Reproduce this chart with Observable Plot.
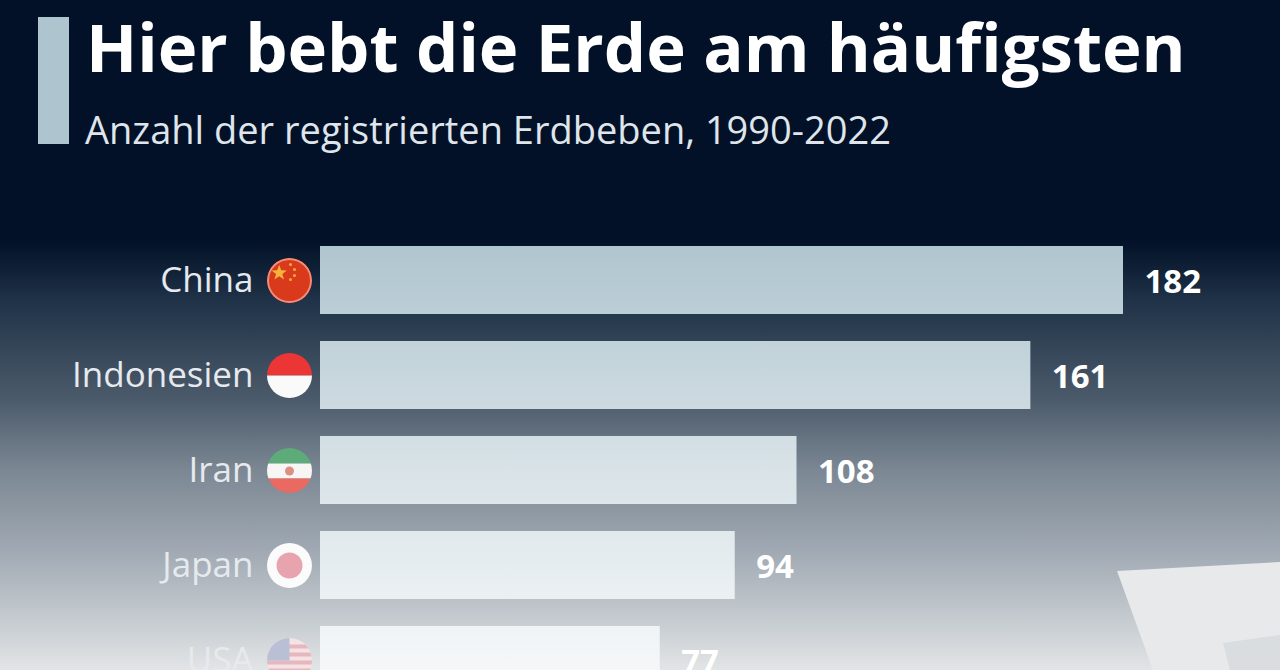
<!DOCTYPE html>
<html lang="de">
<head>
<meta charset="utf-8">
<script src="https://cdn.jsdelivr.net/npm/d3@7"></script>
<script src="https://cdn.jsdelivr.net/npm/@observablehq/plot@0.6"></script>
<style>
html,body{margin:0;padding:0;width:1280px;height:670px;overflow:hidden}
#page{position:relative;width:1280px;height:670px;overflow:hidden;font-family:"Open Sans",sans-serif;
background:linear-gradient(180deg,#021127 0,#021127 240px,#1f3247 300px,#4c5b6b 400px,#7b8793 470px,#a0a9b3 550px,#c0c6cb 610px,#e2e5e7 670px)}
#accent{position:absolute;left:38px;top:17px;width:31px;height:127px;background:#aec4cf}
#title{position:absolute;left:86px;top:0;font-size:67px;line-height:92px;font-weight:700;color:#fff;white-space:nowrap}
#subtitle{position:absolute;left:85px;top:103px;font-size:38px;line-height:52px;font-weight:400;color:#dfe5ea;white-space:nowrap}
.shard{position:absolute;left:1100px;top:550px;width:180px;height:120px}
#s1{background:#e7e9eb;clip-path:polygon(17px 21px,180px 12px,180px 120px,53px 120px)}
#s2{background:#d9dddf;clip-path:polygon(123px 93px,180px 85px,180px 120px,130px 120px)}
#chart{position:absolute;left:0;top:0}
#chart svg{display:block;background:transparent}
</style>
</head>
<body>
<div id="page">
  <div class="shard" id="s1"></div>
  <div class="shard" id="s2"></div>
  <div id="accent"></div>
  <div id="title">Hier bebt die Erde am häufigsten</div>
  <div id="subtitle">Anzahl der registrierten Erdbeben, 1990-2022</div>
  <div id="chart"></div>
</div>
<script>
const countries = ["China", "Indonesien", "Iran", "Japan", "USA"];
const quakes = [182, 161, 108, 94, 77];

const flagSvg = inner => "data:image/svg+xml;utf8," + encodeURIComponent(
  `<svg xmlns="http://www.w3.org/2000/svg" viewBox="0 0 46 46"><clipPath id="c"><circle cx="23" cy="23" r="22.5"/></clipPath><g clip-path="url(#c)">${inner}</g></svg>`);
const star = (x, y, r, f) => `<circle cx="${x}" cy="${y}" r="${r}" fill="${f}"/>`;
const flags = [
  `<rect width="46" height="46" fill="#d93a1c"/><circle cx="23" cy="23" r="21.5" fill="none" stroke="#ee8f7e" stroke-width="2"/><path d="M13 7l2.2 6 6.3.2-5 3.9 1.8 6.1-5.3-3.6-5.3 3.6 1.8-6.1-5-3.9 6.3-.2z" fill="#f4b43a" transform="translate(1 1) scale(.9)"/>` + star(24, 7, 1.5, "#f0a83a") + star(28, 12, 1.5, "#f0a83a") + star(28, 18, 1.5, "#f0a83a") + star(24, 22, 1.5, "#f0a83a"),
  `<rect width="46" height="23" fill="#ec3636"/><rect y="23" width="46" height="23" fill="#fbfafa"/>`,
  `<rect width="46" height="16" fill="#5cab78"/><rect y="16" width="46" height="15" fill="#f8f6f5"/><rect y="31" width="46" height="15" fill="#ea6a62"/><circle cx="23" cy="23.5" r="4.5" fill="#dd8f84"/>`,
  `<rect width="46" height="46" fill="#fbfbfc"/><circle cx="23" cy="23" r="13" fill="#e8a4ae"/>`,
  `<rect width="46" height="46" fill="#f5e3e4"/><rect y="7" width="46" height="4" fill="#e5b8bf"/><rect y="15" width="46" height="4" fill="#e5b8bf"/><rect y="23" width="46" height="4" fill="#e5b8bf"/><rect y="31" width="46" height="4" fill="#e5b8bf"/><rect y="39" width="46" height="4" fill="#e5b8bf"/><rect width="23" height="23" fill="#b9bfd4"/>`
].map(flagSvg);

const rows = countries.map((country, i) => ({country, value: quakes[i], flag: flags[i]}));

const gradient = () => {
  const defs = d3.create("svg:defs");
  const g = defs.append("linearGradient").attr("id", "barFade")
    .attr("gradientUnits", "userSpaceOnUse").attr("x1", 0).attr("x2", 0).attr("y1", 244).attr("y2", 670);
  g.append("stop").attr("offset", 0).attr("stop-color", "#afc5cf");
  g.append("stop").attr("offset", 0.5).attr("stop-color", "#d6e1e6");
  g.append("stop").attr("offset", 1).attr("stop-color", "#f5f8f9");
  return defs.node();
};

const chart = Plot.plot({
  width: 1280,
  height: 700,
  marginLeft: 320,
  marginRight: 157,
  marginTop: 244,
  marginBottom: 4,
  style: {background: "transparent", fontFamily: "'Open Sans',sans-serif", overflow: "visible"},
  x: {domain: [0, 182], axis: null},
  y: {domain: countries, padding: 0.28, paddingOuter: 0, label: null},
  marks: [
    gradient,
    Plot.barX(rows, {x: "value", y: "country", fill: "url(#barFade)"}),
    Plot.axisY({tickSize: 0, tickPadding: 67, fontSize: 35, color: "#e6eaee", fill: "#e6eaee", label: null}),
    Plot.image(rows, {x: () => 0, y: "country", src: "flag", width: 46, height: 46, dx: -31}),
    Plot.text(rows, {x: "value", y: "country", text: d => String(d.value), dx: 21, dy: 2, textAnchor: "start",
      fontSize: 33, fontWeight: 700, fill: "#fff"})
  ]
});
document.getElementById("chart").append(chart);
</script>
</body>
</html>
